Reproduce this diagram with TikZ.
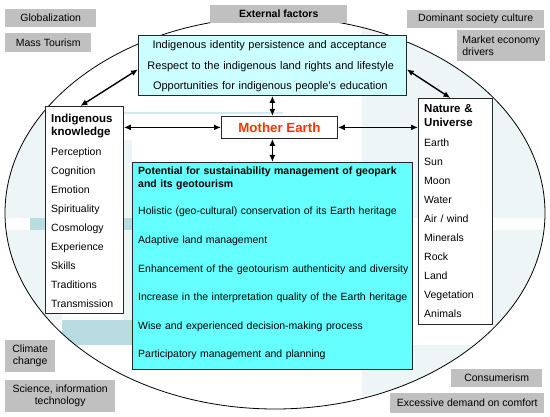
\documentclass[tikz,border=0pt]{standalone}
\usepackage{fontspec}
\setmainfont{Liberation Sans}
\usepackage{xcolor}
\usepackage{tikz}
\usetikzlibrary{arrows.meta,positioning}
\definecolor{cGrey}{HTML}{C0C0C0}
\definecolor{cPale}{HTML}{CCFFFF}
\definecolor{cAqua}{HTML}{66FFFF}
\definecolor{cWash}{HTML}{EDF5F7}
\definecolor{cBand}{HTML}{B9DCE2}
\definecolor{cRed}{HTML}{FF3300}
\definecolor{cInk}{HTML}{262626}
\tikzset{
  gbox/.style={fill=cGrey,anchor=north west,align=center,inner sep=0pt,font=\fontsize{10.5}{12}\selectfont},
  panel/.style={draw=cInk,fill=#1,line width=0.8pt,anchor=north west,inner sep=0pt},
  panel/.default=white,
  hd/.style={anchor=base west,inner sep=0pt,align=left,text width=#1,font=\bfseries\fontsize{11.5}{14}\selectfont},
  hd/.default=72pt,
  lst/.style={anchor=base west,inner sep=0pt,align=left,text width=#1,font=\fontsize{10.5}{19}\selectfont},
  lst/.default=72pt,
  darr/.style={{Latex[length=7pt,width=6pt]}-{Latex[length=7pt,width=6pt]},line width=1.4pt},
}

\begin{document}
\begin{tikzpicture}[x=1pt,y=-1pt]
  \useasboundingbox (0,0) rectangle (550,417);
  % faint pattern behind the circle
  \begin{scope}
    \clip (275,213) ellipse [x radius=270pt, y radius=196pt];
    \fill[cWash] (0,108) rectangle (45,218);
    \fill[cWash] (0,230) rectangle (62,320);
    \fill[cWash] (123,140) rectangle (132,218);
    \fill[cWash] (123,230) rectangle (132,320);
    \fill[cBand] (30,218) rectangle (45,230);
    \fill[cBand] (123,218) rectangle (132,230);
    \fill[cBand] (62,320) rectangle (132,345);
    \fill[cBand!60] (45,112.5) rectangle (283,114.5);
    \fill[cWash] (362,28) rectangle (550,218);
    \fill[cWash] (492,230) rectangle (550,345);
    \fill[cWash] (362,345) rectangle (550,417);
  \end{scope}
  \draw[line width=0.8pt] (275,213) ellipse [x radius=270pt, y radius=196pt];

  % outside factors
  \node[gbox,minimum width=91pt,minimum height=18pt]  (glob) at (5,9)    {Globalization};
  \node[gbox,minimum width=86pt,minimum height=19pt]  (mass) at (5,33)   {Mass Tourism};
  \node[gbox,minimum width=137pt,minimum height=18pt,font=\bfseries\fontsize{10.5}{12}\selectfont] (ext) at (210,5) {External factors};
  \node[gbox,minimum width=137pt,minimum height=18pt] (dom)  at (407,10) {Dominant society culture};
  \node[gbox,minimum width=88pt,minimum height=31pt,align=left] (mkt) at (457,30) {Market economy\\drivers};
  \node[gbox,minimum width=50pt,minimum height=32pt]  (clim) at (5,340)  {Climate\\change};
  \node[gbox,minimum width=110pt,minimum height=32pt] (sci)  at (5,380)  {Science, information\\technology};
  \node[gbox,minimum width=91pt,minimum height=18pt]  (cons) at (451,369) {Consumerism};
  \node[gbox,minimum width=154pt,minimum height=20pt] (exc)  at (390,393) {Excessive demand on comfort};

  % panels
  \node[panel=cPale,minimum width=268pt,minimum height=60pt] (idn) at (138,35) {};
  \node[panel,minimum width=78pt,minimum height=207pt]       (ikb) at (45,106) {};
  \node[panel,minimum width=74pt,minimum height=226pt]       (nub) at (418,98) {};
  \node[panel,minimum width=116pt,minimum height=22pt,text=cRed,font=\bfseries\fontsize{13.3}{15}\selectfont] (me) at (221,116) {Mother Earth};
  \node[panel=cAqua,minimum width=280pt,minimum height=207pt] (pot) at (132,162) {};

  % texts
  \node[anchor=base,inner sep=0pt,align=center,text width=268pt,font=\fontsize{11}{20.5}\selectfont] (idnT) at (272,49)
    {\makebox[239pt][s]{Indigenous identity persistence and acceptance}\\
     \makebox[249pt][s]{Respect to the indigenous land rights and lifestyle}\\
     \makebox[238pt][s]{Opportunities for indigenous people's education}};
  \node[hd,font=\bfseries\fontsize{11.5}{13.5}\selectfont] (ikT) at (51,122.5) {Indigenous\\knowledge};
  \node[lst] (ikL) at (51,156) {Perception\\Cognition\\Emotion\\Spirituality\\Cosmology\\Experience\\Skills\\Traditions\\Transmission};
  \node[hd,font=\bfseries\fontsize{11.5}{14.3}\selectfont] (nuT) at (424,112.4) {Nature \&\\Universe};
  \node[lst] (nuL) at (424,146.4) {Earth\\Sun\\Moon\\Water\\Air / wind\\Minerals\\Rock\\Land\\Vegetation\\Animals};
  \node[hd=272pt,font=\bfseries\fontsize{10.5}{13}\selectfont] (potT) at (138,174.3)
    {Potential for sustainability management of geopark\\and its geotourism};
  \node[lst=272pt,font=\fontsize{10.5}{28.6}\selectfont] (potL) at (138,215)
    {Holistic (geo-cultural) conservation of its Earth heritage\\
     Adaptive land management\\
     Enhancement of the geotourism authenticity and diversity\\
     Increase in the interpretation quality of the Earth heritage\\
     Wise and experienced decision-making process\\
     Participatory management and planning};

  % links
  \draw[darr] ([yshift=-4pt]idn.west) -- ([xshift=-4pt]ikb.north);
  \draw[darr] ([yshift=-4pt]idn.east) -- ([xshift=-5pt]nub.north);
  \draw[darr] (idn.south) -- (idn.south |- me.north);
  \draw[darr] (pot.north |- me.south) -- (pot.north);
  \draw[darr] (ikb.east |- me.west) -- (me.west);
  \draw[darr] (me.east) -- (nub.west |- me.east);
\end{tikzpicture}
\end{document}
